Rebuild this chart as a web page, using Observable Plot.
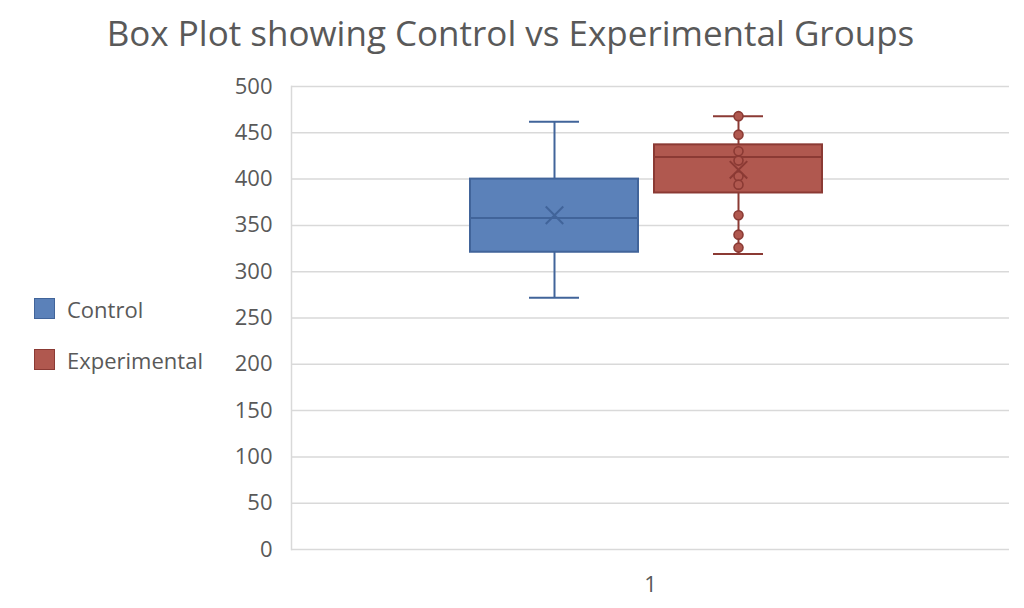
<!DOCTYPE html>
<html>
<head>
<meta charset="utf-8">
<script src="https://cdn.jsdelivr.net/npm/d3@7"></script>
<script src="https://cdn.jsdelivr.net/npm/@observablehq/plot@0.6"></script>
<style>
  body { margin: 0; background: #fff; font-family: "Open Sans", sans-serif; }
  #wrap { position: relative; width: 1024px; height: 608px; overflow: hidden; background: #fff; }
  #title { position: absolute; left: 0; width: 1021px; top: 12px; line-height: 42px; text-align: center; font-size: 35px; color: #595959; white-space: nowrap; z-index: 2; }
  #legend { position: absolute; left: 0; top: 0; z-index: 2; }
  .sw { position: absolute; left: 34px; width: 19px; height: 19px; border: 1.5px solid; }
  .lt { position: absolute; left: 67px; line-height: 22px; font-size: 22px; color: #595959; white-space: nowrap; }
  #chart { position: absolute; left: 0; top: 70px; z-index: 1; }
</style>
</head>
<body>
<div id="wrap">
  <div id="chart"></div>
  <div id="title">Box Plot showing Control vs Experimental Groups</div>
  <div id="legend"></div>
</div>
<script>
// ---- data ----
const groups = ["Control", "Experimental"];
const category = "1";
const mins = [272, 319];
const q1s = [321, 385];
const medians = [358, 424];
const q3s = [400, 437];
const maxs = [462, 468];
const means = [361, 410];
const experimentalPoints = [468, 448, 430, 420, 403, 394, 361, 340, 326];
const yTicks = [0, 50, 100, 150, 200, 250, 300, 350, 400, 450, 500];
const fills = ["#5b81b9", "#b0584f"];
const strokes = ["#41649a", "#8b3a34"];

const stats = groups.map((g, i) => ({
  group: g, cat: category, min: mins[i], q1: q1s[i], median: medians[i],
  q3: q3s[i], max: maxs[i], mean: means[i], fill: fills[i], stroke: strokes[i]
}));
const pts = experimentalPoints.map(v => ({ group: "Experimental", cat: category, value: v }));

// ---- legend ----
const legend = document.getElementById("legend");
const legendTops = [298, 349];
groups.forEach((g, i) => {
  const sw = document.createElement("div");
  sw.className = "sw";
  sw.style.top = legendTops[i] + "px";
  sw.style.background = fills[i];
  sw.style.borderColor = strokes[i];
  legend.appendChild(sw);
  const t = document.createElement("div");
  t.className = "lt";
  t.style.top = legendTops[i] + "px";
  t.textContent = g;
  legend.appendChild(t);
});

// ---- chart ----
const chart = Plot.plot({
  width: 1024,
  height: 538,
  marginTop: 16,
  marginBottom: 59,
  marginLeft: 291,
  marginRight: 15,
  style: { fontFamily: "Open Sans", fontSize: "22px", color: "#595959", background: "#fff" },
  fx: { domain: [category], padding: 0, label: null, tickSize: 0, tickPadding: 27, axis: "bottom" },
  x: { domain: groups, paddingInner: 0.087, paddingOuter: 0.9945, align: 0.49, axis: null },
  y: { domain: [0, 500], ticks: yTicks, tickSize: 0, tickPadding: 19, label: null, tickFormat: d => String(d) },
  color: { type: "identity" },
  marks: [
    Plot.gridY(yTicks, { stroke: "#d9d9d9", strokeOpacity: 1, strokeWidth: 1.5 }),
    Plot.frame({ anchor: "left", stroke: "#d9d9d9", strokeOpacity: 1, strokeWidth: 1.5 }),
    Plot.ruleX(stats, { fx: "cat", x: "group", y1: "q3", y2: "max", stroke: "stroke", strokeWidth: 2 }),
    Plot.ruleX(stats, { fx: "cat", x: "group", y1: "min", y2: "q1", stroke: "stroke", strokeWidth: 2 }),
    Plot.tickY(stats, { fx: "cat", x: "group", y: "max", stroke: "stroke", strokeWidth: 2, insetLeft: 59, insetRight: 59 }),
    Plot.tickY(stats, { fx: "cat", x: "group", y: "min", stroke: "stroke", strokeWidth: 2, insetLeft: 59, insetRight: 59 }),
    Plot.barY(stats, { fx: "cat", x: "group", y1: "q1", y2: "q3", fill: "fill", stroke: "stroke", strokeWidth: 2, inset: 0 }),
    Plot.tickY(stats, { fx: "cat", x: "group", y: "median", stroke: "stroke", strokeWidth: 2, insetLeft: 1, insetRight: 1 }),
    Plot.dot(pts, { fx: "cat", x: "group", y: "value", r: 4.5, fill: "#b0584f", stroke: "#8b3a34", strokeWidth: 1.6 }),
    Plot.dot(stats, { fx: "cat", x: "group", y: "mean", symbol: "times", r: 8, stroke: "stroke", strokeWidth: 2 })
  ]
});
document.getElementById("chart").appendChild(chart);
</script>
</body>
</html>
